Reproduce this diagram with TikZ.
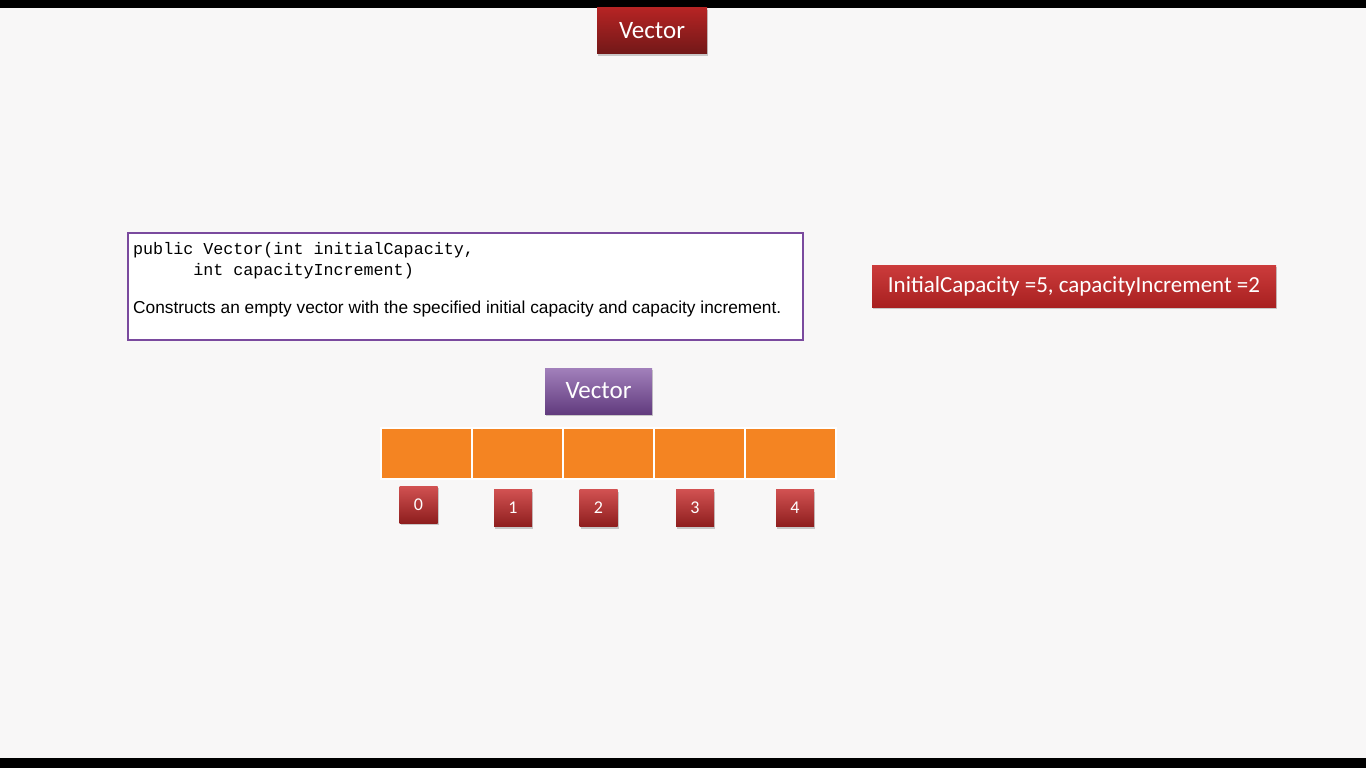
\documentclass[tikz,border=0pt]{standalone}
\usepackage{fontspec}
\setmainfont{Carlito}
\newfontfamily\codefont{Liberation Mono}
\newfontfamily\descfont{Liberation Sans}
\usetikzlibrary{shadows}
\definecolor{bg}{HTML}{F8F7F7}
\definecolor{dred}{HTML}{8E1E1E}
\definecolor{mred}{HTML}{C62626}
\definecolor{purp}{HTML}{7A4A9E}
\definecolor{orng}{HTML}{F48422}
\begin{document}
\begin{tikzpicture}[x=1pt,y=-1pt,
  redbox/.style={draw=none,top color=mred!80!white,bottom color=dred,text=white,inner sep=0pt,drop shadow={shadow xshift=1pt,shadow yshift=-2pt,opacity=0.4}},
  purbox/.style={draw=none,top color=purp!70!white,bottom color=purp!80!black,text=white,inner sep=0pt,drop shadow={shadow xshift=1pt,shadow yshift=-2pt,opacity=0.4}},
  cell/.style={fill=orng,draw=white,line width=1.5pt,minimum width=91pt,minimum height=51pt,inner sep=0pt},
  idx/.style={redbox,minimum width=38pt,minimum height=37pt,font=\fontsize{18}{20}\selectfont}]
\fill[bg] (0,0) rectangle (1366,768);
\fill[black] (0,0) rectangle (1366,8);
\fill[black] (0,758) rectangle (1366,768);
\useasboundingbox (0,0) rectangle (1366,768);
\node[redbox,minimum width=110pt,minimum height=46pt,font=\fontsize{25}{28}\selectfont,top color=mred!70!dred,bottom color=dred!80!black] (title) at (652,31) {Vector};
\node[draw=purp,line width=2pt,fill=white,minimum width=675pt,minimum height=107pt,inner sep=0pt] (code) at (465.5,286.5) {};
\node[anchor=west,font=\codefont\fontsize{16.7}{18}\selectfont,inner sep=0pt] (l1) at (133,250) {public Vector(int initialCapacity,};
\node[anchor=west,font=\codefont\fontsize{16.7}{18}\selectfont,inner sep=0pt] (l2) at (133,271) {\ \ \ \ \ \ int capacityIncrement)};
\node[anchor=west,font=\descfont\fontsize{17.3}{19}\selectfont,inner sep=0pt] (desc) at (133,309) {Constructs an empty vector with the specified initial capacity and capacity increment.};
\node[redbox,minimum width=404pt,minimum height=42pt,font=\fontsize{23}{26}\selectfont,top color=mred!90!white,bottom color=mred!85!black] (params) at (1074,286) {InitialCapacity =5, capacityIncrement =2};
\node[purbox,minimum width=107pt,minimum height=46pt,font=\fontsize{25}{28}\selectfont] (vec) at (598.5,391) {Vector};
\foreach \i in {0,...,4}{\node[cell] (c\i) at (426.5+91*\i,453.5) {};}
\node[idx] (i0) at (418.5,504.5) {0};
\node[idx] (i1) at (513,508) {1};
\node[idx] (i2) at (598.5,508) {2};
\node[idx] (i3) at (695,508) {3};
\node[idx] (i4) at (795,508) {4};
\end{tikzpicture}
\end{document}
